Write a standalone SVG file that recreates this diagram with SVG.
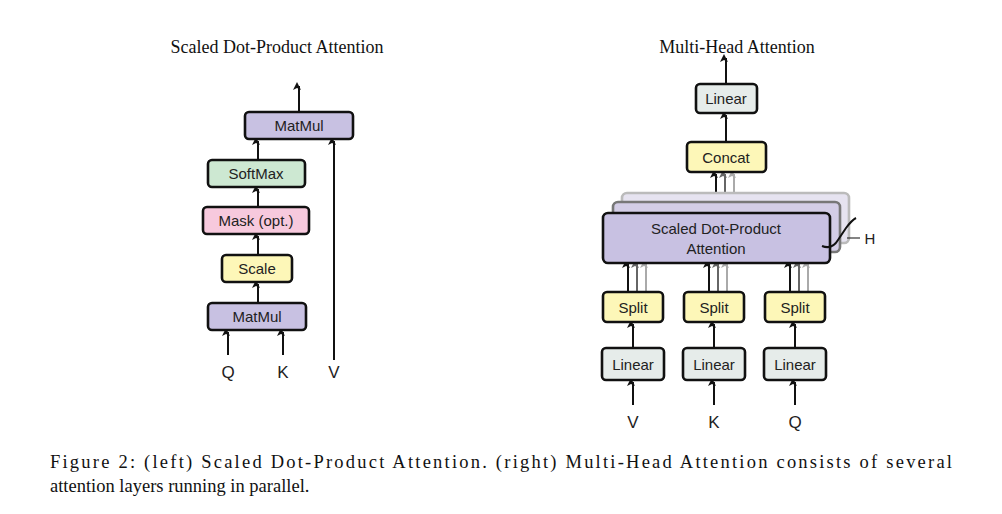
<svg xmlns="http://www.w3.org/2000/svg" width="1002" height="514" viewBox="0 0 1002 514">
<style>
.b{stroke:#111;stroke-width:2.6}
.t{font-family:"Liberation Sans",Arial,sans-serif;font-size:15px;fill:#222;text-anchor:middle}
.io{font-family:"Liberation Sans",Arial,sans-serif;font-size:17px;fill:#222;text-anchor:middle}
.ti{font-family:"Liberation Serif","Times New Roman",serif;font-size:18px;fill:#111;text-anchor:middle}
.cap{font-family:"Liberation Serif","Times New Roman",serif;font-size:18.5px;fill:#111}
.a{stroke:#111;stroke-width:2;fill:none;marker-end:url(#ah)}
.g1{stroke:#666;stroke-width:2;fill:none;marker-end:url(#ag)}
.g2{stroke:#aaa;stroke-width:2;fill:none;marker-end:url(#al)}
.mm{fill:#c8c1e2}.sm{fill:#cde8d2}.mk{fill:#f7c9dd}.sc{fill:#fdf7b8}.ln{fill:#e6ecea}
</style>
<defs>
<marker id="ah" markerWidth="8" markerHeight="8" refX="4" refY="6" orient="auto-start-reverse" markerUnits="userSpaceOnUse" viewBox="0 0 8 8"><path d="M0,8 L4,0 L8,8 L4,6 Z" fill="#111" transform="rotate(90 4 4)"/></marker>
<marker id="ag" markerWidth="8" markerHeight="8" refX="4" refY="6" orient="auto-start-reverse" markerUnits="userSpaceOnUse" viewBox="0 0 8 8"><path d="M0,8 L4,0 L8,8 L4,6 Z" fill="#666" transform="rotate(90 4 4)"/></marker>
<marker id="al" markerWidth="8" markerHeight="8" refX="4" refY="6" orient="auto-start-reverse" markerUnits="userSpaceOnUse" viewBox="0 0 8 8"><path d="M0,8 L4,0 L8,8 L4,6 Z" fill="#aaa" transform="rotate(90 4 4)"/></marker>
</defs>
<rect width="1002" height="514" fill="#fff"/>
<text class="ti" x="277" y="53">Scaled Dot-Product Attention</text>
<text class="ti" x="737" y="53">Multi-Head Attention</text>

<g id="conn">
<path class="a" d="M299,112 V86"/>
<path class="a" d="M258,160 V141"/>
<path class="a" d="M258,207 V189"/>
<path class="a" d="M258,255 V236"/>
<path class="a" d="M258,303 V284"/>
<path class="a" d="M228,355 V332"/>
<path class="a" d="M283,355 V332"/>
<path class="a" d="M334,360 V141"/>
<path class="a" d="M726,84 V58"/>
<path class="a" d="M726,141 V115"/>
<path class="a" d="M716,213 V174"/>
<path class="g1" d="M725,202 V174"/>
<path class="g2" d="M734,193 V174"/>
<path class="g2" d="M646,292 V264"/><path class="g1" d="M637,292 V264"/><path class="a" d="M628,292 V264"/>
<path class="g2" d="M727,292 V264"/><path class="g1" d="M718,292 V264"/><path class="a" d="M709,292 V264"/>
<path class="g2" d="M808,292 V264"/><path class="g1" d="M799,292 V264"/><path class="a" d="M790,292 V264"/>
<path class="a" d="M633,347 V324"/><path class="a" d="M714,347 V324"/><path class="a" d="M795,347 V324"/>
<path class="a" d="M633,405 V382"/><path class="a" d="M714,405 V382"/><path class="a" d="M795,405 V382"/>
</g>

<g id="l-matmul2"><rect class="b mm" x="245" y="112" width="108" height="27" rx="4"/><text class="t" x="299" y="131">MatMul</text></g>
<g id="l-softmax"><rect class="b sm" x="208" y="160" width="97" height="27" rx="4"/><text class="t" x="256" y="179">SoftMax</text></g>
<g id="l-mask"><rect class="b mk" x="203" y="207" width="106" height="27" rx="4"/><text class="t" x="256" y="226">Mask (opt.)</text></g>
<g id="l-scale"><rect class="b sc" x="222" y="255" width="70" height="27" rx="4"/><text class="t" x="257" y="274">Scale</text></g>
<g id="l-matmul1"><rect class="b mm" x="208" y="303" width="98" height="27" rx="4"/><text class="t" x="257" y="322">MatMul</text></g>
<text class="io" x="228" y="378">Q</text><text class="io" x="283" y="378">K</text><text class="io" x="334" y="378">V</text>

<g id="r-linear-top"><rect class="b ln" x="696" y="84" width="61" height="29" rx="4"/><text class="t" x="726" y="104">Linear</text></g>
<g id="r-concat"><rect class="b sc" x="687" y="142" width="79" height="30" rx="4"/><text class="t" x="726" y="163">Concat</text></g>
<g id="r-sdpa">
<rect x="622" y="193" width="227" height="50" rx="5" fill="#e6e3f0" stroke="#bbb" stroke-width="2.6"/>
<rect x="613" y="202" width="227" height="50" rx="5" fill="#d3cde6" stroke="#777" stroke-width="2.6"/>
<rect class="b mm" x="603" y="213" width="227" height="50" rx="5"/>
<text class="t" x="716" y="234">Scaled Dot-Product</text><text class="t" x="716" y="254">Attention</text>
<path d="M822,246 Q832,250 838,240 L846,228 Q852,220 856,218" stroke="#111" stroke-width="2" fill="none"/>
<path d="M847,238 H860" stroke="#333" stroke-width="1.2"/>
<text class="io" x="870" y="244" style="font-size:15px">H</text>
</g>
<g id="r-split1"><rect class="b sc" x="603" y="292" width="60" height="30" rx="4"/><text class="t" x="633" y="313">Split</text></g>
<g id="r-split2"><rect class="b sc" x="684" y="292" width="60" height="30" rx="4"/><text class="t" x="714" y="313">Split</text></g>
<g id="r-split3"><rect class="b sc" x="765" y="292" width="60" height="30" rx="4"/><text class="t" x="795" y="313">Split</text></g>
<g id="r-lin1"><rect class="b ln" x="602" y="348" width="62" height="32" rx="4"/><text class="t" x="633" y="370">Linear</text></g>
<g id="r-lin2"><rect class="b ln" x="683" y="348" width="62" height="32" rx="4"/><text class="t" x="714" y="370">Linear</text></g>
<g id="r-lin3"><rect class="b ln" x="764" y="348" width="62" height="32" rx="4"/><text class="t" x="795" y="370">Linear</text></g>
<text class="io" x="633" y="428">V</text><text class="io" x="714" y="428">K</text><text class="io" x="795" y="428">Q</text>

<text class="cap" x="50" y="468" textLength="902" lengthAdjust="spacing">Figure 2: (left) Scaled Dot-Product Attention. (right) Multi-Head Attention consists of several</text>
<text class="cap" x="50" y="492">attention layers running in parallel.</text>
</svg>
